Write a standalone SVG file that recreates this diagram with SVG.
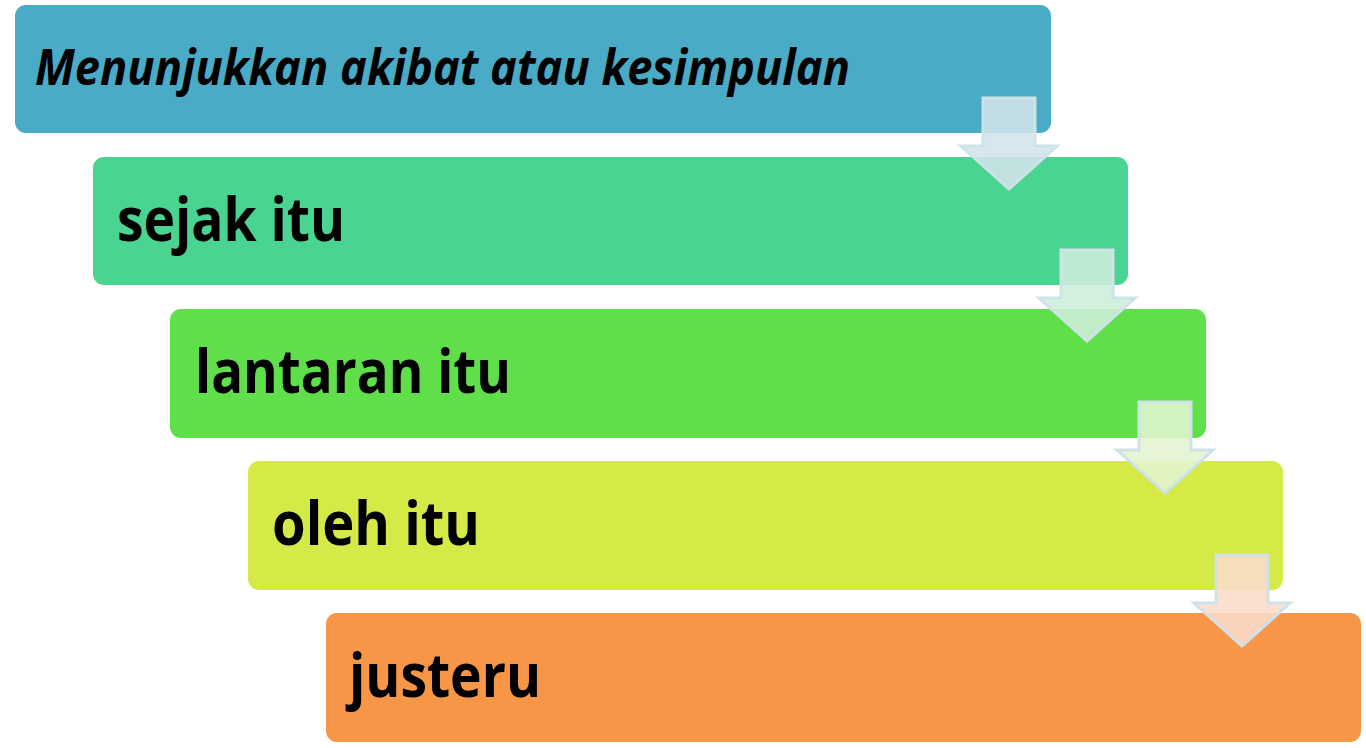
<svg xmlns="http://www.w3.org/2000/svg" width="1366" height="748" viewBox="0 0 1366 748">
<style>
.box{stroke:none}
.t{font-family:"Open Sans","Noto Sans","Liberation Sans",sans-serif;font-weight:bold;fill:#000}
.arr{stroke:#cfe2e8;stroke-width:3;stroke-linejoin:miter;fill-opacity:0.88}
</style>
<defs>
<path id="arrow" d="M0,0 H52 V48 H74 L26,91 L-22,48 H0 Z"/>
</defs>
<rect width="1366" height="748" fill="#fff"/>
<g id="node1">
<rect class="box" x="15" y="5" width="1036" height="128" rx="11" fill="#4aabc6"/>
<text class="t" x="35" y="85" font-size="50" font-style="italic" textLength="815" lengthAdjust="spacingAndGlyphs">Menunjukkan akibat atau kesimpulan</text>
</g>
<g id="node2">
<rect class="box" x="93" y="157" width="1035" height="128" rx="11" fill="#49d492"/>
<text class="t" x="117" y="241" font-size="60" textLength="228" lengthAdjust="spacingAndGlyphs">sejak itu</text>
</g>
<g id="node3">
<rect class="box" x="170" y="309" width="1036" height="129" rx="11" fill="#5fe04a"/>
<text class="t" x="195" y="393" font-size="60" textLength="316" lengthAdjust="spacingAndGlyphs">lantaran itu</text>
</g>
<g id="node4">
<rect class="box" x="248" y="461" width="1035" height="129" rx="11" fill="#d5ea46"/>
<text class="t" x="272" y="545" font-size="60" textLength="208" lengthAdjust="spacingAndGlyphs">oleh itu</text>
</g>
<g id="node5">
<rect class="box" x="326" y="613" width="1035" height="129" rx="11" fill="#f79646"/>
<text class="t" x="349" y="697" font-size="60" textLength="192" lengthAdjust="spacingAndGlyphs">justeru</text>
</g>
<g id="connectors">
<use href="#arrow" class="arr" x="983" y="98" fill="#d1e4ea"/>
<use href="#arrow" class="arr" x="1061" y="250" fill="#cdeed9"/>
<use href="#arrow" class="arr" x="1139" y="402" fill="#e2f4cf"/>
<use href="#arrow" class="arr" x="1216" y="555" fill="#fadccb"/>
</g>
</svg>
